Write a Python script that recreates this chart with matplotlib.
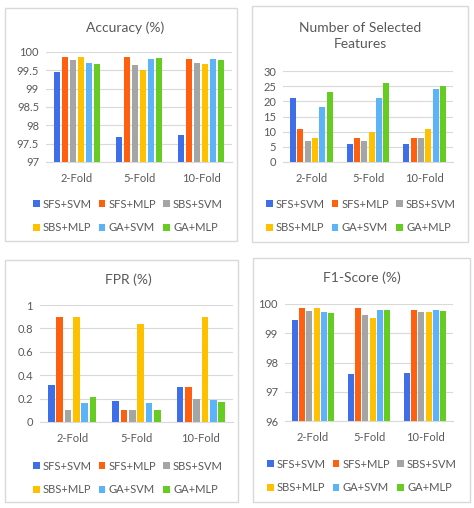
import numpy as np
import matplotlib
matplotlib.use('Agg')
import matplotlib.pyplot as plt
from matplotlib.patches import Rectangle

plt.rcParams['font.family'] = ['Lato', 'DejaVu Sans']

folds = ['2-Fold', '5-Fold', '10-Fold']
methods = ['SFS+SVM', 'SFS+MLP', 'SBS+SVM', 'SBS+MLP', 'GA+SVM', 'GA+MLP']
colors = ['#3F6FE8', '#FF6010', '#A5A5A5', '#FFC000', '#5CB4F8', '#66CC22']

# rows = folds, columns = methods
accuracy = np.array([
    [99.46, 99.87, 99.78, 99.87, 99.71, 99.68],
    [97.68, 99.87, 99.64, 99.51, 99.82, 99.84],
    [97.73, 99.80, 99.69, 99.67, 99.81, 99.78],
])
n_features = np.array([
    [21, 11, 7, 8, 18, 23],
    [6, 8, 7, 10, 21, 26],
    [6, 8, 8, 11, 24, 25],
])
fpr = np.array([
    [0.32, 0.90, 0.10, 0.90, 0.16, 0.21],
    [0.18, 0.10, 0.10, 0.84, 0.16, 0.10],
    [0.30, 0.30, 0.20, 0.90, 0.19, 0.17],
])
f1 = np.array([
    [99.45, 99.87, 99.77, 99.87, 99.71, 99.69],
    [97.60, 99.85, 99.64, 99.51, 99.81, 99.80],
    [97.63, 99.80, 99.71, 99.74, 99.80, 99.75],
])

W, H = 474, 508
fig = plt.figure(figsize=(W / 100, H / 100), dpi=100)


def fx(px):
    return px / W


def fy(py):
    return 1 - py / H


# panel boxes (pixel coords: left, top, right, bottom)
boxes = [(5, 8, 237, 241), (252, 6, 468, 242), (5, 260, 238, 502), (253, 258, 470, 502)]
for l, t, r, b in boxes:
    fig.add_artist(Rectangle((fx(l), fy(b)), fx(r - l), (b - t) / H,
                             transform=fig.transFigure, fill=False,
                             edgecolor='#D9D9D9', lw=1))

panels = [
    dict(data=accuracy, ext=(46, 52, 232, 162), ylim=(97, 100), yt=np.arange(97, 100.01, 0.5),
         title='Accuracy (%)', tpos=(125, 28), leg=(128, 193)),
    dict(data=n_features, ext=(283, 71, 453, 162), ylim=(0, 30), yt=np.arange(0, 31, 5),
         title='Number of Selected\nFeatures', tpos=(360, 36), leg=(361, 193)),
    dict(data=fpr, ext=(40, 305, 233, 422), ylim=(0, 1), yt=np.arange(0, 1.01, 0.2),
         title='FPR (%)', tpos=(128, 280), leg=(128, 455)),
    dict(data=f1, ext=(285, 304, 453, 421), ylim=(96, 100), yt=np.arange(96, 100.1, 1),
         title='F1-Score (%)', tpos=(362, 278), leg=(362, 453)),
]

x = np.arange(len(folds))
slot = 0.78 / len(methods)

for p in panels:
    l, t, r, b = p['ext']
    ax = fig.add_axes([fx(l), fy(b), fx(r - l), (b - t) / H])
    handles = []
    for i, m in enumerate(methods):
        off = (i - (len(methods) - 1) / 2) * slot
        bars = ax.bar(x + off, p['data'][:, i], width=slot * 0.8, color=colors[i],
                      label=m, zorder=3)
        handles.append(bars)
    ax.set_ylim(*p['ylim'])
    ax.set_yticks(p['yt'])
    ax.set_yticklabels([('%g' % v) for v in p['yt']])
    ax.set_xlim(-0.5, len(folds) - 0.5)
    ax.set_xticks(x)
    ax.set_xticklabels(folds)
    ax.grid(axis='y', color='#D9D9D9', lw=0.8, zorder=0)
    for s in ['top', 'right', 'left']:
        ax.spines[s].set_visible(False)
    ax.spines['bottom'].set_color('#D9D9D9')
    ax.tick_params(axis='both', length=0, labelsize=8, colors='#595959', pad=5)
    ax.tick_params(axis='x', pad=8)

    fig.text(fx(p['tpos'][0]), fy(p['tpos'][1]), p['title'], ha='center', va='center',
             fontsize=10, color='#595959', linespacing=1.3)

    order = [0, 3, 1, 4, 2, 5]
    ax.legend([handles[k] for k in order], [methods[k] for k in order],
              loc='upper center', bbox_to_anchor=(fx(p['leg'][0]), fy(p['leg'][1])),
              bbox_transform=fig.transFigure, ncol=3, frameon=False, fontsize=8,
              handlelength=0.6, handleheight=0.6, handletextpad=0.3,
              columnspacing=0.6, labelspacing=1.15, labelcolor='#595959',
              borderpad=0)

fig.savefig('out.png', dpi=100, facecolor='white')
